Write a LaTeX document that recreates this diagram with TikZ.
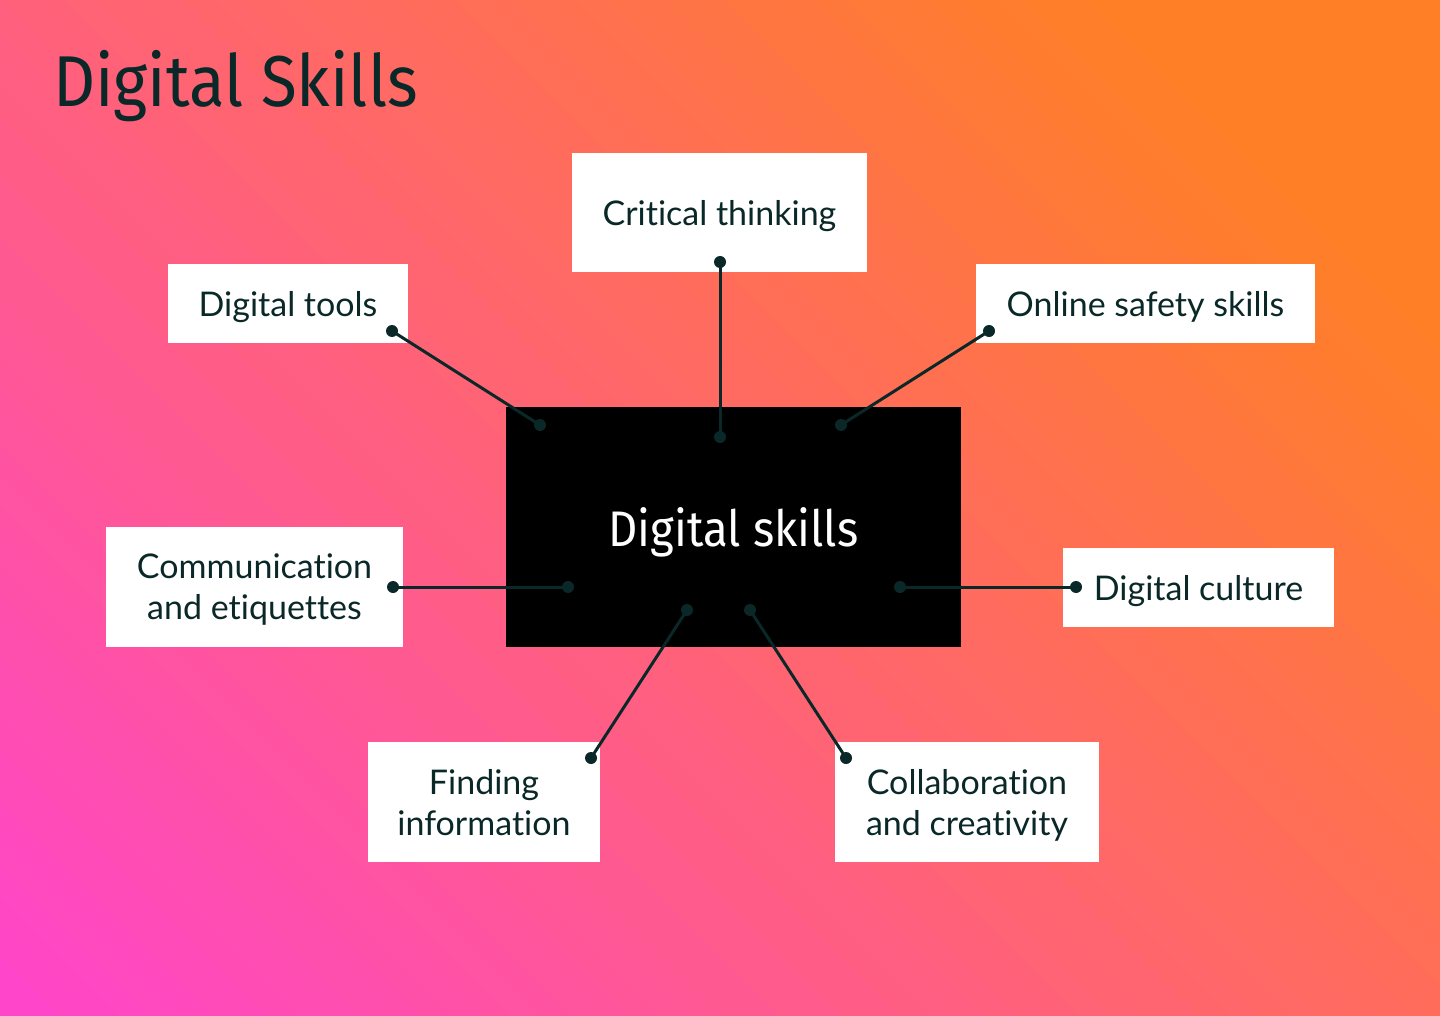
\documentclass[tikz,border=0pt]{standalone}
\usepackage{fontspec}
\setmainfont{Lato}[Ligatures=NoCommon]
\newfontfamily\titlefont{Fira Sans}[FakeStretch=0.91]
\definecolor{ink}{HTML}{0B2828}
\definecolor{bgBL}{HTML}{FF44CC}
\definecolor{bgTR}{HTML}{FF7F27}
\tikzset{
  skill/.style={fill=white, text=ink, align=center, inner sep=0pt, text depth=0pt,
    font=\fontsize{34}{41}\selectfont},
  hub/.style={fill=black, text=white, inner sep=0pt, text depth=0pt,
    font=\titlefont\fontsize{50}{60}\selectfont},
  dotn/.style={circle, fill=ink, inner sep=0pt, minimum size=12pt},
  link/.style={draw=ink, line width=3pt}
}
\begin{document}
\begin{tikzpicture}[x=1pt,y=-1pt]
\useasboundingbox (0,0) rectangle (1440,1016);
% diagonal gradient background: magenta (bottom left) to orange (towards top right)
\begin{scope}
\clip (0,0) rectangle (1440,1016);
\fill[bgTR] (0,0) rectangle (1440,1016);
\foreach \i in {0,...,69}{
  \pgfmathsetmacro{\ca}{\i*30-1016}
  \pgfmathsetmacro{\cb}{\i*30+32-1016}
  \pgfmathtruncatemacro{\pc}{round((\i+0.5)/70*100)}
  \fill[bgTR!\pc!bgBL] ({\ca-10},-10) -- ({\cb-10},-10) -- ({\cb+1030},1030) -- ({\ca+1030},1030) -- cycle;
}
\end{scope}

\node[anchor=base west, text=ink, inner sep=0pt, font=\titlefont\fontsize{72}{80}\selectfont] (title) at (53,107) {Digital Skills};

\node[hub, minimum width=455pt, minimum height=240pt] (hubn) at (733.5,527) {Digital skills};

\node[skill, minimum width=295pt, minimum height=119pt] (crit) at (719.5,212.5) {Critical thinking};
\node[skill, minimum width=240pt, minimum height=79pt] (tools) at (288,303.5) {Digital tools};
\node[skill, minimum width=339pt, minimum height=79pt] (safety) at (1145.5,303.5) {Online safety skills};
\node[skill, minimum width=297pt, minimum height=120pt] (comm) at (254.5,587) {Communication\\and etiquettes};
\node[skill, minimum width=271pt, minimum height=79pt] (culture) at (1198.5,587.5) {Digital culture};
\node[skill, minimum width=232pt, minimum height=120pt] (finding) at (484,802) {Finding\\information};
\node[skill, minimum width=264pt, minimum height=120pt] (collab) at (967,802) {Collaboration\\and creativity};

% dots on the outer boxes
\node[dotn] (critd) at (720,262) {};
\node[dotn] (toolsd) at (392,331) {};
\node[dotn] (safetyd) at (989,331) {};
\node[dotn] (commd) at (393,587) {};
\node[dotn] (cultured) at (1076,587) {};
\node[dotn] (findingd) at (591,758) {};
\node[dotn] (collabd) at (846,758) {};
% dots on the hub
\node[dotn] (h1) at (720,437) {};
\node[dotn] (h2) at (540,425) {};
\node[dotn] (h3) at (841,425) {};
\node[dotn] (h4) at (568,587) {};
\node[dotn] (h5) at (900,587) {};
\node[dotn] (h6) at (687,610) {};
\node[dotn] (h7) at (750,610) {};

\draw[link] (critd.center) -- (h1.center);
\draw[link] (toolsd.center) -- (h2.center);
\draw[link] (safetyd.center) -- (h3.center);
\draw[link] (commd.center) -- (h4.center);
\draw[link] (cultured.center) -- (h5.center);
\draw[link] (findingd.center) -- (h6.center);
\draw[link] (collabd.center) -- (h7.center);
\end{tikzpicture}
\end{document}
